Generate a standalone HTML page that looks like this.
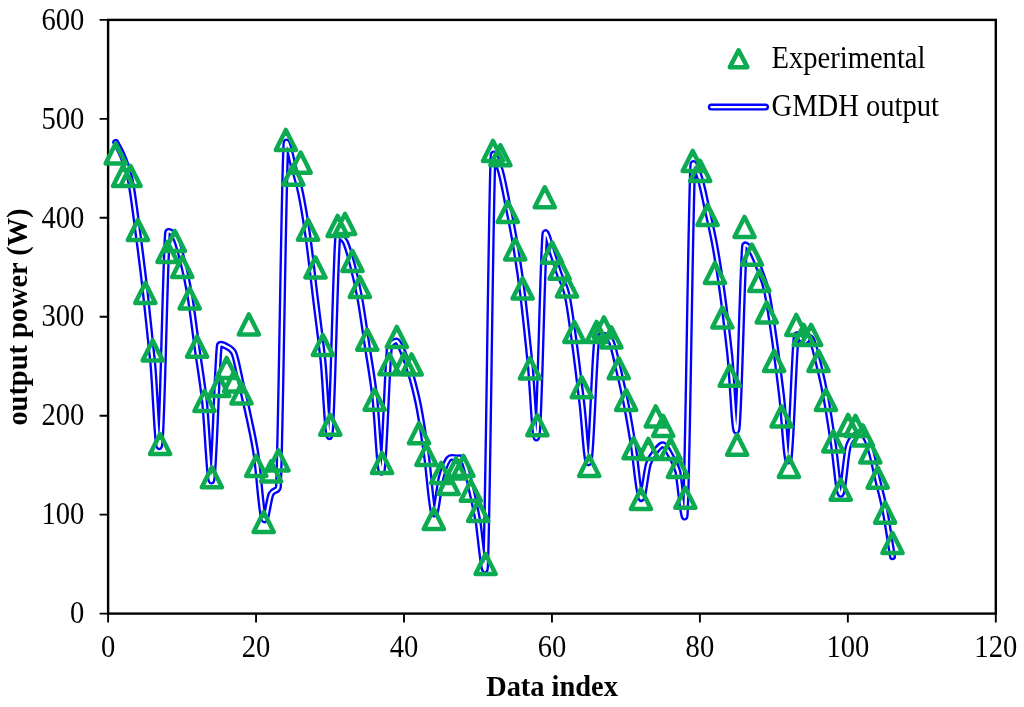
<!DOCTYPE html>
<html><head><meta charset="utf-8"><title>GMDH output vs Experimental</title>
<style>
html,body{margin:0;padding:0;background:#fff;}
svg{display:block;}
.tk{font-family:"Liberation Serif","Times New Roman",serif;font-size:28.6px;fill:#000;}
.ax{font-family:"Liberation Serif","Times New Roman",serif;font-size:28.4px;font-weight:bold;fill:#000;}
</style></head><body>
<svg width="1024" height="707" viewBox="0 0 1024 707">
<rect width="1024" height="707" fill="#fff"/>
<rect x="108.10" y="19.90" width="887.70" height="593.70" fill="none" stroke="#000" stroke-width="2.4"/>
<path d="M99.60,613.60H108.10M99.60,514.65H108.10M99.60,415.70H108.10M99.60,316.75H108.10M99.60,217.80H108.10M99.60,118.85H108.10M99.60,19.90H108.10M108.10,613.60V622.50M256.05,613.60V622.50M404.00,613.60V622.50M551.95,613.60V622.50M699.90,613.60V622.50M847.85,613.60V622.50M995.80,613.60V622.50" stroke="#000" stroke-width="1.9" fill="none"/>
<text transform="translate(84.3,623.30) scale(1,1.08)" text-anchor="end" class="tk">0</text>
<text transform="translate(84.3,524.35) scale(1,1.08)" text-anchor="end" class="tk">100</text>
<text transform="translate(84.3,425.40) scale(1,1.08)" text-anchor="end" class="tk">200</text>
<text transform="translate(84.3,326.45) scale(1,1.08)" text-anchor="end" class="tk">300</text>
<text transform="translate(84.3,227.50) scale(1,1.08)" text-anchor="end" class="tk">400</text>
<text transform="translate(84.3,128.55) scale(1,1.08)" text-anchor="end" class="tk">500</text>
<text transform="translate(84.3,29.60) scale(1,1.08)" text-anchor="end" class="tk">600</text>
<text transform="translate(108.10,656.6) scale(1,1.08)" text-anchor="middle" class="tk">0</text>
<text transform="translate(256.05,656.6) scale(1,1.08)" text-anchor="middle" class="tk">20</text>
<text transform="translate(404.00,656.6) scale(1,1.08)" text-anchor="middle" class="tk">40</text>
<text transform="translate(551.95,656.6) scale(1,1.08)" text-anchor="middle" class="tk">60</text>
<text transform="translate(699.90,656.6) scale(1,1.08)" text-anchor="middle" class="tk">80</text>
<text transform="translate(847.85,656.6) scale(1,1.08)" text-anchor="middle" class="tk">100</text>
<text transform="translate(995.80,656.6) scale(1,1.08)" text-anchor="middle" class="tk">120</text>
<text x="552" y="696" text-anchor="middle" class="ax">Data index</text>
<text transform="translate(27,317) rotate(-90)" text-anchor="middle" class="ax">output power (W)</text>
<path d="M115.70,142.30 C118.16,147.27 120.63,150.75 123.10,157.20 C125.49,163.47 128.10,168.77 130.49,181.00 C132.96,193.58 135.43,214.15 137.89,232.70 C140.36,251.25 142.82,270.67 145.29,292.30 C147.76,313.93 150.22,337.39 152.69,362.50 C155.15,387.61 157.62,464.49 160.09,442.93 C162.55,421.37 165.02,267.54 167.48,233.13 C167.77,229.08 172.92,232.94 174.88,236.50 C177.35,240.98 179.81,250.30 182.28,260.00 C184.75,269.70 187.21,279.98 189.68,294.70 C192.14,309.42 194.61,330.53 197.08,348.30 C199.54,366.07 202.01,379.33 204.47,401.30 C206.94,423.27 209.41,489.37 211.87,480.12 C214.34,470.88 216.80,368.09 219.27,345.82 C219.68,342.13 226.26,346.29 226.67,346.50 C228.49,347.45 232.24,348.75 234.07,353.50 C236.53,359.92 239.00,374.32 241.46,385.00 C243.93,395.68 246.40,405.77 248.86,417.60 C251.33,429.43 253.79,439.13 256.26,456.00 C258.73,472.87 261.19,512.47 263.66,518.80 C266.12,525.14 268.59,499.38 271.06,494.00 C273.25,489.21 278.23,491.76 278.45,486.50 C280.92,428.25 283.39,197.90 285.85,144.49 C286.38,133.12 292.73,164.27 293.25,166.00 C295.72,174.14 298.18,181.37 300.65,193.30 C303.11,205.23 305.58,220.07 308.05,237.60 C310.51,255.13 312.98,278.20 315.44,298.50 C317.91,318.80 320.38,336.96 322.84,359.40 C325.31,381.84 327.77,453.34 330.24,433.15 C332.71,412.96 335.17,270.18 337.64,238.24 C337.95,234.21 343.09,237.96 345.04,241.50 C347.50,245.98 349.97,255.63 352.43,265.10 C354.90,274.57 357.37,284.75 359.83,298.30 C362.30,311.85 364.76,330.05 367.23,346.40 C369.70,362.75 372.16,375.54 374.63,396.40 C377.09,417.26 379.56,479.72 382.03,471.57 C384.49,463.42 386.96,369.26 389.42,347.50 C389.98,342.62 396.27,340.75 396.82,341.03 C399.29,342.28 401.75,349.00 404.22,355.00 C406.69,361.00 409.15,368.17 411.62,377.00 C414.08,385.83 416.55,395.00 419.02,408.00 C421.48,421.00 423.95,437.39 426.41,455.00 C428.88,472.61 431.35,509.94 433.81,513.69 C436.28,517.44 438.74,486.62 441.21,477.50 C443.68,468.38 446.14,462.23 448.61,458.98 C450.86,456.01 453.75,457.85 456.01,458.00 C457.72,458.12 461.69,456.57 463.40,460.00 C465.87,464.92 468.34,477.07 470.80,487.50 C473.27,497.93 475.73,509.63 478.20,522.60 C479.07,527.20 484.72,586.94 485.60,565.29 C488.06,504.25 490.53,222.11 493.00,156.35 C493.30,148.28 498.05,162.97 500.39,170.70 C502.86,178.84 505.33,192.97 507.79,205.20 C510.26,217.43 512.72,229.23 515.19,244.10 C517.66,258.97 520.12,274.63 522.59,294.40 C525.05,314.17 527.52,339.44 529.99,362.70 C532.45,385.96 534.92,455.30 537.38,433.98 C539.85,412.66 542.32,265.00 544.78,234.77 C545.57,225.15 551.40,250.47 552.18,252.60 C554.65,259.30 557.11,268.02 559.58,275.00 C561.80,281.28 564.76,284.31 566.98,294.50 C569.44,305.83 571.91,325.02 574.37,343.00 C576.84,360.98 579.31,382.66 581.77,402.40 C584.24,422.14 586.70,471.66 589.17,461.42 C591.64,451.19 594.10,361.99 596.57,341.00 C597.11,336.42 603.43,335.47 603.97,335.50 C605.85,335.60 609.48,337.32 611.36,341.80 C613.83,347.67 616.30,360.28 618.76,370.70 C621.23,381.12 623.69,391.53 626.16,404.30 C628.63,417.07 631.09,431.63 633.56,447.30 C636.02,462.97 638.49,495.53 640.96,498.32 C643.42,501.10 645.89,471.89 648.35,464.00 C650.59,456.86 653.52,453.88 655.75,451.00 C658.22,447.82 660.68,444.15 663.15,444.90 C665.62,445.65 668.08,450.98 670.55,455.50 C672.81,459.65 675.68,463.25 677.95,472.00 C678.94,475.85 684.35,533.27 685.34,512.64 C687.81,461.60 690.28,221.33 692.74,165.74 C693.08,158.11 697.78,171.84 700.14,179.10 C702.61,186.69 705.07,200.12 707.54,211.30 C710.00,222.48 712.47,232.55 714.94,246.20 C717.40,259.85 719.87,275.12 722.33,293.20 C724.80,311.28 727.27,332.23 729.73,354.70 C732.20,377.17 734.66,446.10 737.13,428.01 C739.60,409.92 742.06,275.54 744.53,246.15 C744.91,241.54 751.54,251.11 751.93,251.70 C754.39,255.49 756.86,262.22 759.32,268.90 C761.79,275.58 764.26,280.27 766.72,291.80 C769.19,303.33 771.65,320.82 774.12,338.10 C776.59,355.38 779.05,375.22 781.52,395.50 C783.98,415.78 786.45,469.71 788.92,459.80 C791.38,449.88 793.85,355.61 796.31,336.00 C796.91,331.23 803.11,342.04 803.71,342.14 C806.04,342.54 808.78,335.10 811.11,338.50 C813.58,342.11 816.04,353.93 818.51,363.80 C820.97,373.67 823.44,384.33 825.91,397.70 C828.37,411.07 830.84,427.90 833.30,444.00 C835.77,460.10 838.24,493.80 840.70,494.30 C843.17,494.80 845.63,456.88 848.10,447.00 C849.81,440.16 853.79,436.54 855.50,435.00 C857.96,432.78 860.43,431.38 862.90,433.68 C865.36,435.98 867.83,441.08 870.29,448.80 C872.76,456.52 875.23,469.57 877.69,480.00 C880.16,490.43 882.62,498.62 885.09,511.40 C887.56,524.18 890.02,541.60 892.49,556.70" fill="none" stroke="#0000ff" stroke-width="7.0" stroke-linecap="round" stroke-linejoin="round"/>
<path d="M115.70,142.30 C118.16,147.27 120.63,150.75 123.10,157.20 C125.49,163.47 128.10,168.77 130.49,181.00 C132.96,193.58 135.43,214.15 137.89,232.70 C140.36,251.25 142.82,270.67 145.29,292.30 C147.76,313.93 150.22,337.39 152.69,362.50 C155.15,387.61 157.62,464.49 160.09,442.93 C162.55,421.37 165.02,267.54 167.48,233.13 C167.77,229.08 172.92,232.94 174.88,236.50 C177.35,240.98 179.81,250.30 182.28,260.00 C184.75,269.70 187.21,279.98 189.68,294.70 C192.14,309.42 194.61,330.53 197.08,348.30 C199.54,366.07 202.01,379.33 204.47,401.30 C206.94,423.27 209.41,489.37 211.87,480.12 C214.34,470.88 216.80,368.09 219.27,345.82 C219.68,342.13 226.26,346.29 226.67,346.50 C228.49,347.45 232.24,348.75 234.07,353.50 C236.53,359.92 239.00,374.32 241.46,385.00 C243.93,395.68 246.40,405.77 248.86,417.60 C251.33,429.43 253.79,439.13 256.26,456.00 C258.73,472.87 261.19,512.47 263.66,518.80 C266.12,525.14 268.59,499.38 271.06,494.00 C273.25,489.21 278.23,491.76 278.45,486.50 C280.92,428.25 283.39,197.90 285.85,144.49 C286.38,133.12 292.73,164.27 293.25,166.00 C295.72,174.14 298.18,181.37 300.65,193.30 C303.11,205.23 305.58,220.07 308.05,237.60 C310.51,255.13 312.98,278.20 315.44,298.50 C317.91,318.80 320.38,336.96 322.84,359.40 C325.31,381.84 327.77,453.34 330.24,433.15 C332.71,412.96 335.17,270.18 337.64,238.24 C337.95,234.21 343.09,237.96 345.04,241.50 C347.50,245.98 349.97,255.63 352.43,265.10 C354.90,274.57 357.37,284.75 359.83,298.30 C362.30,311.85 364.76,330.05 367.23,346.40 C369.70,362.75 372.16,375.54 374.63,396.40 C377.09,417.26 379.56,479.72 382.03,471.57 C384.49,463.42 386.96,369.26 389.42,347.50 C389.98,342.62 396.27,340.75 396.82,341.03 C399.29,342.28 401.75,349.00 404.22,355.00 C406.69,361.00 409.15,368.17 411.62,377.00 C414.08,385.83 416.55,395.00 419.02,408.00 C421.48,421.00 423.95,437.39 426.41,455.00 C428.88,472.61 431.35,509.94 433.81,513.69 C436.28,517.44 438.74,486.62 441.21,477.50 C443.68,468.38 446.14,462.23 448.61,458.98 C450.86,456.01 453.75,457.85 456.01,458.00 C457.72,458.12 461.69,456.57 463.40,460.00 C465.87,464.92 468.34,477.07 470.80,487.50 C473.27,497.93 475.73,509.63 478.20,522.60 C479.07,527.20 484.72,586.94 485.60,565.29 C488.06,504.25 490.53,222.11 493.00,156.35 C493.30,148.28 498.05,162.97 500.39,170.70 C502.86,178.84 505.33,192.97 507.79,205.20 C510.26,217.43 512.72,229.23 515.19,244.10 C517.66,258.97 520.12,274.63 522.59,294.40 C525.05,314.17 527.52,339.44 529.99,362.70 C532.45,385.96 534.92,455.30 537.38,433.98 C539.85,412.66 542.32,265.00 544.78,234.77 C545.57,225.15 551.40,250.47 552.18,252.60 C554.65,259.30 557.11,268.02 559.58,275.00 C561.80,281.28 564.76,284.31 566.98,294.50 C569.44,305.83 571.91,325.02 574.37,343.00 C576.84,360.98 579.31,382.66 581.77,402.40 C584.24,422.14 586.70,471.66 589.17,461.42 C591.64,451.19 594.10,361.99 596.57,341.00 C597.11,336.42 603.43,335.47 603.97,335.50 C605.85,335.60 609.48,337.32 611.36,341.80 C613.83,347.67 616.30,360.28 618.76,370.70 C621.23,381.12 623.69,391.53 626.16,404.30 C628.63,417.07 631.09,431.63 633.56,447.30 C636.02,462.97 638.49,495.53 640.96,498.32 C643.42,501.10 645.89,471.89 648.35,464.00 C650.59,456.86 653.52,453.88 655.75,451.00 C658.22,447.82 660.68,444.15 663.15,444.90 C665.62,445.65 668.08,450.98 670.55,455.50 C672.81,459.65 675.68,463.25 677.95,472.00 C678.94,475.85 684.35,533.27 685.34,512.64 C687.81,461.60 690.28,221.33 692.74,165.74 C693.08,158.11 697.78,171.84 700.14,179.10 C702.61,186.69 705.07,200.12 707.54,211.30 C710.00,222.48 712.47,232.55 714.94,246.20 C717.40,259.85 719.87,275.12 722.33,293.20 C724.80,311.28 727.27,332.23 729.73,354.70 C732.20,377.17 734.66,446.10 737.13,428.01 C739.60,409.92 742.06,275.54 744.53,246.15 C744.91,241.54 751.54,251.11 751.93,251.70 C754.39,255.49 756.86,262.22 759.32,268.90 C761.79,275.58 764.26,280.27 766.72,291.80 C769.19,303.33 771.65,320.82 774.12,338.10 C776.59,355.38 779.05,375.22 781.52,395.50 C783.98,415.78 786.45,469.71 788.92,459.80 C791.38,449.88 793.85,355.61 796.31,336.00 C796.91,331.23 803.11,342.04 803.71,342.14 C806.04,342.54 808.78,335.10 811.11,338.50 C813.58,342.11 816.04,353.93 818.51,363.80 C820.97,373.67 823.44,384.33 825.91,397.70 C828.37,411.07 830.84,427.90 833.30,444.00 C835.77,460.10 838.24,493.80 840.70,494.30 C843.17,494.80 845.63,456.88 848.10,447.00 C849.81,440.16 853.79,436.54 855.50,435.00 C857.96,432.78 860.43,431.38 862.90,433.68 C865.36,435.98 867.83,441.08 870.29,448.80 C872.76,456.52 875.23,469.57 877.69,480.00 C880.16,490.43 882.62,498.62 885.09,511.40 C887.56,524.18 890.02,541.60 892.49,556.70" fill="none" stroke="#fff" stroke-width="2.3" stroke-linecap="round" stroke-linejoin="round"/>
<path d="M115.70,143.45 L125.75,163.55 L105.65,163.55 ZM123.10,165.95 L133.15,186.05 L113.05,186.05 ZM130.49,165.95 L140.54,186.05 L120.44,186.05 ZM137.89,219.95 L147.94,240.05 L127.84,240.05 ZM145.29,282.95 L155.34,303.05 L135.24,303.05 ZM152.69,340.45 L162.74,360.55 L142.64,360.55 ZM160.09,433.95 L170.14,454.05 L150.04,454.05 ZM167.48,241.95 L177.53,262.05 L157.43,262.05 ZM174.88,230.95 L184.93,251.05 L164.83,251.05 ZM182.28,256.95 L192.33,277.05 L172.23,277.05 ZM189.68,288.45 L199.73,308.55 L179.63,308.55 ZM197.08,336.65 L207.13,356.75 L187.03,356.75 ZM204.47,390.95 L214.52,411.05 L194.42,411.05 ZM211.87,467.25 L221.92,487.35 L201.82,487.35 ZM219.27,375.95 L229.32,396.05 L209.22,396.05 ZM226.67,357.95 L236.72,378.05 L216.62,378.05 ZM234.07,371.45 L244.12,391.55 L224.02,391.55 ZM241.46,383.45 L251.51,403.55 L231.41,403.55 ZM248.86,314.45 L258.91,334.55 L238.81,334.55 ZM256.26,455.95 L266.31,476.05 L246.21,476.05 ZM263.66,511.95 L273.71,532.05 L253.61,532.05 ZM271.06,461.45 L281.11,481.55 L261.01,481.55 ZM278.45,450.35 L288.50,470.45 L268.40,470.45 ZM285.85,129.95 L295.90,150.05 L275.80,150.05 ZM293.25,164.75 L303.30,184.85 L283.20,184.85 ZM300.65,152.55 L310.70,172.65 L290.60,172.65 ZM308.05,219.65 L318.10,239.75 L298.00,239.75 ZM315.44,257.45 L325.49,277.55 L305.39,277.55 ZM322.84,334.95 L332.89,355.05 L312.79,355.05 ZM330.24,414.65 L340.29,434.75 L320.19,434.75 ZM337.64,215.95 L347.69,236.05 L327.59,236.05 ZM345.04,213.95 L355.09,234.05 L334.99,234.05 ZM352.43,250.95 L362.48,271.05 L342.38,271.05 ZM359.83,276.95 L369.88,297.05 L349.78,297.05 ZM367.23,329.75 L377.28,349.85 L357.18,349.85 ZM374.63,389.65 L384.68,409.75 L364.58,409.75 ZM382.03,452.95 L392.08,473.05 L371.98,473.05 ZM389.42,354.15 L399.47,374.25 L379.37,374.25 ZM396.82,326.95 L406.87,347.05 L386.77,347.05 ZM404.22,353.45 L414.27,373.55 L394.17,373.55 ZM411.62,354.45 L421.67,374.55 L401.57,374.55 ZM419.02,423.25 L429.07,443.35 L408.97,443.35 ZM426.41,444.95 L436.46,465.05 L416.36,465.05 ZM433.81,508.95 L443.86,529.05 L423.76,529.05 ZM441.21,462.95 L451.26,483.05 L431.16,483.05 ZM448.61,473.95 L458.66,494.05 L438.56,494.05 ZM456.01,458.45 L466.06,478.55 L445.96,478.55 ZM463.40,455.95 L473.45,476.05 L453.35,476.05 ZM470.80,480.75 L480.85,500.85 L460.75,500.85 ZM478.20,500.95 L488.25,521.05 L468.15,521.05 ZM485.60,553.95 L495.65,574.05 L475.55,574.05 ZM493.00,140.95 L503.05,161.05 L482.95,161.05 ZM500.39,145.25 L510.44,165.35 L490.34,165.35 ZM507.79,201.95 L517.84,222.05 L497.74,222.05 ZM515.19,239.35 L525.24,259.45 L505.14,259.45 ZM522.59,278.45 L532.64,298.55 L512.54,298.55 ZM529.99,358.35 L540.04,378.45 L519.94,378.45 ZM537.38,415.25 L547.43,435.35 L527.33,435.35 ZM544.78,187.25 L554.83,207.35 L534.73,207.35 ZM552.18,242.55 L562.23,262.65 L542.13,262.65 ZM559.58,258.65 L569.63,278.75 L549.53,278.75 ZM566.98,276.45 L577.03,296.55 L556.93,296.55 ZM574.37,321.95 L584.42,342.05 L564.32,342.05 ZM581.77,377.15 L591.82,397.25 L571.72,397.25 ZM589.17,455.95 L599.22,476.05 L579.12,476.05 ZM596.57,321.95 L606.62,342.05 L586.52,342.05 ZM603.97,317.45 L614.02,337.55 L593.92,337.55 ZM611.36,327.45 L621.41,347.55 L601.31,347.55 ZM618.76,358.25 L628.81,378.35 L608.71,378.35 ZM626.16,389.95 L636.21,410.05 L616.11,410.05 ZM633.56,438.25 L643.61,458.35 L623.51,458.35 ZM640.96,488.95 L651.01,509.05 L630.91,509.05 ZM648.35,438.95 L658.40,459.05 L638.30,459.05 ZM655.75,406.45 L665.80,426.55 L645.70,426.55 ZM663.15,415.95 L673.20,436.05 L653.10,436.05 ZM670.55,438.95 L680.60,459.05 L660.50,459.05 ZM677.95,456.95 L688.00,477.05 L667.90,477.05 ZM685.34,487.65 L695.39,507.75 L675.29,507.75 ZM692.74,150.95 L702.79,171.05 L682.69,171.05 ZM700.14,160.95 L710.19,181.05 L690.09,181.05 ZM707.54,204.95 L717.59,225.05 L697.49,225.05 ZM714.94,262.95 L724.99,283.05 L704.89,283.05 ZM722.33,307.45 L732.38,327.55 L712.28,327.55 ZM729.73,365.75 L739.78,385.85 L719.68,385.85 ZM737.13,434.75 L747.18,454.85 L727.08,454.85 ZM744.53,216.95 L754.58,237.05 L734.48,237.05 ZM751.93,244.65 L761.98,264.75 L741.88,264.75 ZM759.32,270.95 L769.37,291.05 L749.27,291.05 ZM766.72,302.45 L776.77,322.55 L756.67,322.55 ZM774.12,350.95 L784.17,371.05 L764.07,371.05 ZM781.52,406.35 L791.57,426.45 L771.47,426.45 ZM788.92,456.95 L798.97,477.05 L778.87,477.05 ZM796.31,314.95 L806.36,335.05 L786.26,335.05 ZM803.71,324.95 L813.76,345.05 L793.66,345.05 ZM811.11,324.95 L821.16,345.05 L801.06,345.05 ZM818.51,350.95 L828.56,371.05 L808.46,371.05 ZM825.91,389.95 L835.96,410.05 L815.86,410.05 ZM833.30,431.45 L843.35,451.55 L823.25,451.55 ZM840.70,479.65 L850.75,499.75 L830.65,499.75 ZM848.10,414.95 L858.15,435.05 L838.05,435.05 ZM855.50,415.95 L865.55,436.05 L845.45,436.05 ZM862.90,425.45 L872.95,445.55 L852.85,445.55 ZM870.29,442.45 L880.34,462.55 L860.24,462.55 ZM877.69,467.55 L887.74,487.65 L867.64,487.65 ZM885.09,502.55 L895.14,522.65 L875.04,522.65 ZM892.49,532.95 L902.54,553.05 L882.44,553.05 Z" fill="none" stroke="#0cab52" stroke-width="4.5" stroke-linejoin="round"/>
<path d="M738.60,50.35 L747.35,67.15 L729.85,67.15 Z" fill="none" stroke="#0cab52" stroke-width="4.5" stroke-linejoin="round"/>
<text transform="translate(771.5,67.5) scale(1,1.08)" class="tk">Experimental</text>
<path d="M711.3,107.1H765.5" stroke="#0000ff" stroke-width="7.0" stroke-linecap="round"/><path d="M711.3,107.1H765.5" stroke="#fff" stroke-width="2.3" stroke-linecap="round"/>
<text transform="translate(771.5,115.6) scale(1,1.08)" class="tk">GMDH output</text>
</svg>
</body></html>
